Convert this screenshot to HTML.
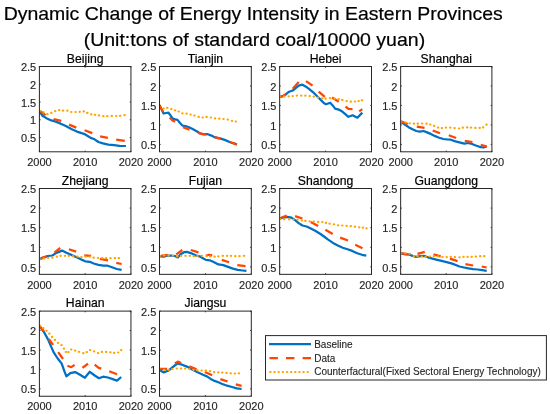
<!DOCTYPE html><html><head><meta charset="utf-8"><style>html,body{margin:0;padding:0;background:#fff;}svg{display:block;filter:blur(0.35px);}text{font-family:"Liberation Sans",sans-serif;}</style></head><body>
<svg width="550" height="414" viewBox="0 0 550 414">
<rect width="550" height="414" fill="#fff"/>
<text x="253.2" y="19.6" font-size="18.5" text-anchor="middle" fill="#000" stroke="#000" stroke-width="0.2" textLength="499" lengthAdjust="spacingAndGlyphs">Dynamic Change of Energy Intensity in Eastern Provinces</text>
<text x="254.4" y="46.2" font-size="18.5" text-anchor="middle" fill="#000" stroke="#000" stroke-width="0.2" textLength="341.5" lengthAdjust="spacingAndGlyphs">(Unit:tons of standard coal/10000 yuan)</text>
<clipPath id="c0"><rect x="39.4" y="66.5" width="91.54" height="85.3"/></clipPath><g clip-path="url(#c0)" fill="none" stroke-linejoin="round"><polyline points="39.6,111.6 42.4,115.7 46.9,118.4 51.3,120.4 55.8,121.6 60.2,123.4 65.8,126 71.3,129 76.9,131.6 82.4,133.4 84,133.8 87.3,135.7 90.7,137.9 94.6,139.3 98.4,142 102.9,143.4 108.4,144.6 114,145.1 119.6,145.8 125.9,146" stroke="#0070C4" stroke-width="2.25"/><polyline points="40,110.9 44.7,114.6 45.5,115.3" stroke="#FF4500" stroke-width="2.25"/><polyline points="53.6,119 61.3,120.9" stroke="#FF4500" stroke-width="2.25"/><polyline points="69.1,124.6 76.3,127.6" stroke="#FF4500" stroke-width="2.25"/><polyline points="84.6,130.3 92.3,133.1" stroke="#FF4500" stroke-width="2.25"/><polyline points="100.1,136.4 107.9,137.9" stroke="#FF4500" stroke-width="2.25"/><polyline points="116.2,139.6 124.8,140.9" stroke="#FF4500" stroke-width="2.25"/><path d="M39.55 110.9h0.3M43.45 112.3h0.3M47.25 114.2h0.3M51.15 112.9h0.3M55.05 111.2h0.3M58.95 110.1h0.3M62.85 110.7h0.3M67.25 110.7h0.3M71.15 112h0.3M75.45 112h0.3M79.55 111.8h0.3M83.65 111.4h0.3M87.15 112.9h0.3M91.05 114.3h0.3M94.95 114.8h0.3M98.85 115.4h0.3M103.25 116.2h0.3M107.15 116.2h0.3M111.65 115.9h0.3M116.05 116h0.3M119.95 115.8h0.3M124.45 115.1h0.3" stroke="#FFA500" stroke-width="2.2" stroke-linecap="round"/></g><rect x="39.4" y="66.5" width="91.54" height="85.3" fill="none" stroke="#262626" stroke-width="1"/><path d="M39.4 137.58h1.2M130.94 137.58h-1.2M39.4 119.81h1.2M130.94 119.81h-1.2M39.4 102.04h1.2M130.94 102.04h-1.2M39.4 84.27h1.2M130.94 84.27h-1.2M39.4 66.5h1.2M130.94 66.5h-1.2M39.4 151.8v-1.2M39.4 66.5v1.2M85.17 151.8v-1.2M85.17 66.5v1.2M130.94 151.8v-1.2M130.94 66.5v1.2" stroke="#262626" stroke-width="0.9" fill="none"/><text x="36.2" y="142.18" font-size="11" text-anchor="end" fill="#262626" stroke="#262626" stroke-width="0.15">0.5</text><text x="36.2" y="124.41" font-size="11" text-anchor="end" fill="#262626" stroke="#262626" stroke-width="0.15">1</text><text x="36.2" y="106.64" font-size="11" text-anchor="end" fill="#262626" stroke="#262626" stroke-width="0.15">1.5</text><text x="36.2" y="88.87" font-size="11" text-anchor="end" fill="#262626" stroke="#262626" stroke-width="0.15">2</text><text x="36.2" y="71.1" font-size="11" text-anchor="end" fill="#262626" stroke="#262626" stroke-width="0.15">2.5</text><text x="39.4" y="166" font-size="11" text-anchor="middle" fill="#262626" stroke="#262626" stroke-width="0.15">2000</text><text x="85.17" y="166" font-size="11" text-anchor="middle" fill="#262626" stroke="#262626" stroke-width="0.15">2010</text><text x="130.94" y="166" font-size="11" text-anchor="middle" fill="#262626" stroke="#262626" stroke-width="0.15">2020</text><text x="85.17" y="62.5" font-size="12.2" text-anchor="middle" fill="#000" stroke="#000" stroke-width="0.2">Beijing</text>
<clipPath id="c1"><rect x="159.5" y="66.5" width="91.8" height="85.3"/></clipPath><g clip-path="url(#c1)" fill="none" stroke-linejoin="round"><polyline points="159.7,105.8 161.8,109.7 163.6,113.5 166.1,113 168.5,112.7 170.3,115.1 172.7,118.7 175.1,119.3 177.5,119.9 180,123 182.4,125.6 185.4,126 189,127.2 192.6,129 196.3,131 199.9,133.2 202.9,134.2 207.8,134.2 211.5,135.6 215.1,137.4 219.9,138.4 224.7,139.9 229.6,142 233.2,143.2 236.8,144.4" stroke="#0070C4" stroke-width="2.25"/><polyline points="159.6,105.4 161.2,108.5 163,112.1" stroke="#FF4500" stroke-width="2.25"/><polyline points="169.7,117.5 172.5,120.5 175.1,121.7" stroke="#FF4500" stroke-width="2.25"/><polyline points="183,127.2 189.6,129.6" stroke="#FF4500" stroke-width="2.25"/><polyline points="198.1,132.8 202.9,134.2 206.5,134.6" stroke="#FF4500" stroke-width="2.25"/><polyline points="214.5,137.2 221.1,138.9" stroke="#FF4500" stroke-width="2.25"/><polyline points="230.2,142.3 237,144.4" stroke="#FF4500" stroke-width="2.25"/><path d="M159.55 105.4h0.3M163.45 108.5h0.3M167.15 107.9h0.3M171.15 109.1h0.3M174.95 110.3h0.3M178.55 111.5h0.3M182.25 113.3h0.3M186.45 113.6h0.3M190.45 114.5h0.3M194.25 115.5h0.3M198.55 116.9h0.3M202.55 117.5h0.3M206.45 116.9h0.3M210.75 117.5h0.3M214.95 118.4h0.3M219.15 118.7h0.3M223.35 119h0.3M227.65 119.6h0.3M231.85 120.8h0.3M235.65 121.5h0.3" stroke="#FFA500" stroke-width="2.2" stroke-linecap="round"/></g><rect x="159.5" y="66.5" width="91.8" height="85.3" fill="none" stroke="#262626" stroke-width="1"/><path d="M159.5 144.4h1.2M251.3 144.4h-1.2M159.5 124.92h1.2M251.3 124.92h-1.2M159.5 105.45h1.2M251.3 105.45h-1.2M159.5 85.97h1.2M251.3 85.97h-1.2M159.5 66.5h1.2M251.3 66.5h-1.2M159.5 151.8v-1.2M159.5 66.5v1.2M205.4 151.8v-1.2M205.4 66.5v1.2M251.3 151.8v-1.2M251.3 66.5v1.2" stroke="#262626" stroke-width="0.9" fill="none"/><text x="156.3" y="149" font-size="11" text-anchor="end" fill="#262626" stroke="#262626" stroke-width="0.15">0.5</text><text x="156.3" y="129.52" font-size="11" text-anchor="end" fill="#262626" stroke="#262626" stroke-width="0.15">1</text><text x="156.3" y="110.05" font-size="11" text-anchor="end" fill="#262626" stroke="#262626" stroke-width="0.15">1.5</text><text x="156.3" y="90.57" font-size="11" text-anchor="end" fill="#262626" stroke="#262626" stroke-width="0.15">2</text><text x="156.3" y="71.1" font-size="11" text-anchor="end" fill="#262626" stroke="#262626" stroke-width="0.15">2.5</text><text x="159.5" y="166" font-size="11" text-anchor="middle" fill="#262626" stroke="#262626" stroke-width="0.15">2000</text><text x="205.4" y="166" font-size="11" text-anchor="middle" fill="#262626" stroke="#262626" stroke-width="0.15">2010</text><text x="251.3" y="166" font-size="11" text-anchor="middle" fill="#262626" stroke="#262626" stroke-width="0.15">2020</text><text x="205.4" y="62.5" font-size="12.2" text-anchor="middle" fill="#000" stroke="#000" stroke-width="0.2">Tianjin</text>
<clipPath id="c2"><rect x="279.65" y="66.5" width="91.85" height="85.3"/></clipPath><g clip-path="url(#c2)" fill="none" stroke-linejoin="round"><polyline points="280,96.8 283.6,96 286.7,93.6 289.1,91.7 292.7,90.5 295.7,88.1 298.7,85.7 302.4,84.7 306,86.7 309.6,89.3 313.2,92.3 316.9,96 320.5,99.6 324.1,103.2 326,104.2 330.2,102.7 332.7,105.4 335.1,108.6 338.7,109.6 342.3,111.6 345.3,114.1 348.4,116.8 352.6,115.3 357.4,117.7 362.3,112.6" stroke="#0070C4" stroke-width="2.25"/><polyline points="280,96.8 281.2,96.8 286.1,94.2" stroke="#FF4500" stroke-width="2.25"/><polyline points="292.7,88.7 298.7,82.1" stroke="#FF4500" stroke-width="2.25"/><polyline points="306,81.1 312.6,85.7" stroke="#FF4500" stroke-width="2.25"/><polyline points="318.7,91.7 324.8,96.9" stroke="#FF4500" stroke-width="2.25"/><polyline points="332.1,97.5 338.7,101.7" stroke="#FF4500" stroke-width="2.25"/><polyline points="345.5,106.7 348.7,109 352.5,109.1" stroke="#FF4500" stroke-width="2.25"/><polyline points="359.2,111.4 362.3,109.2" stroke="#FF4500" stroke-width="2.25"/><path d="M279.85 96.8h0.3M284.05 96.6h0.3M288.55 96.3h0.3M292.55 96h0.3M296.75 95.6h0.3M301.05 95.6h0.3M305.25 95.7h0.3M309.45 96h0.3M313.65 96.6h0.3M317.95 97.5h0.3M321.95 98.4h0.3M325.45 98.7h0.3M329.85 98.1h0.3M334.35 98.7h0.3M338.55 99.1h0.3M342.15 99.9h0.3M346.45 101.1h0.3M350.65 101.7h0.3M354.85 101.5h0.3M358.45 101.1h0.3M361.75 100.3h0.3" stroke="#FFA500" stroke-width="2.2" stroke-linecap="round"/></g><rect x="279.65" y="66.5" width="91.85" height="85.3" fill="none" stroke="#262626" stroke-width="1"/><path d="M279.65 144.4h1.2M371.5 144.4h-1.2M279.65 124.92h1.2M371.5 124.92h-1.2M279.65 105.45h1.2M371.5 105.45h-1.2M279.65 85.97h1.2M371.5 85.97h-1.2M279.65 66.5h1.2M371.5 66.5h-1.2M279.65 151.8v-1.2M279.65 66.5v1.2M325.57 151.8v-1.2M325.57 66.5v1.2M371.5 151.8v-1.2M371.5 66.5v1.2" stroke="#262626" stroke-width="0.9" fill="none"/><text x="276.45" y="149" font-size="11" text-anchor="end" fill="#262626" stroke="#262626" stroke-width="0.15">0.5</text><text x="276.45" y="129.52" font-size="11" text-anchor="end" fill="#262626" stroke="#262626" stroke-width="0.15">1</text><text x="276.45" y="110.05" font-size="11" text-anchor="end" fill="#262626" stroke="#262626" stroke-width="0.15">1.5</text><text x="276.45" y="90.57" font-size="11" text-anchor="end" fill="#262626" stroke="#262626" stroke-width="0.15">2</text><text x="276.45" y="71.1" font-size="11" text-anchor="end" fill="#262626" stroke="#262626" stroke-width="0.15">2.5</text><text x="279.65" y="166" font-size="11" text-anchor="middle" fill="#262626" stroke="#262626" stroke-width="0.15">2000</text><text x="325.57" y="166" font-size="11" text-anchor="middle" fill="#262626" stroke="#262626" stroke-width="0.15">2010</text><text x="371.5" y="166" font-size="11" text-anchor="middle" fill="#262626" stroke="#262626" stroke-width="0.15">2020</text><text x="325.57" y="62.5" font-size="12.2" text-anchor="middle" fill="#000" stroke="#000" stroke-width="0.2">Hebei</text>
<clipPath id="c3"><rect x="400.65" y="66.5" width="91.25" height="85.3"/></clipPath><g clip-path="url(#c3)" fill="none" stroke-linejoin="round"><polyline points="401,121.8 404.8,124.5 408.6,127.2 412.5,129.3 416.3,131 419.7,131.7 423.6,131 427,132.4 430.8,133.9 434.7,135.9 438.5,137.5 443.4,139 446.9,139.4 450.8,139.7 454.6,141.1 459.4,142.3 464.3,143.6 468.1,143 472,144 475.9,145.5 480.7,147.2 483.6,147.5 486.5,146.5" stroke="#0070C4" stroke-width="2.25"/><polyline points="401,121.4 407.7,124" stroke="#FF4500" stroke-width="2.25"/><polyline points="416.8,126.6 424.5,127.9" stroke="#FF4500" stroke-width="2.25"/><polyline points="432.7,130.5 440,133.2" stroke="#FF4500" stroke-width="2.25"/><polyline points="448.8,135.3 456.1,138" stroke="#FF4500" stroke-width="2.25"/><polyline points="464.8,140.9 472.5,142" stroke="#FF4500" stroke-width="2.25"/><polyline points="480.7,144.9 487,146.5" stroke="#FF4500" stroke-width="2.25"/><path d="M401.05 121.6h0.3M405.55 122.5h0.3M409.45 123.3h0.3M413.75 123.7h0.3M417.65 123.7h0.3M421.95 123.5h0.3M426.35 123.7h0.3M430.15 124.5h0.3M434.05 125.9h0.3M437.95 127.6h0.3M441.75 128.1h0.3M445.75 127.6h0.3M450.15 127.6h0.3M454.45 128.1h0.3M458.85 128.5h0.3M462.65 127.7h0.3M467.05 127.4h0.3M470.85 127.6h0.3M475.25 127.9h0.3M479.55 127.9h0.3M482.95 127.4h0.3M486.35 124.7h0.3" stroke="#FFA500" stroke-width="2.2" stroke-linecap="round"/></g><rect x="400.65" y="66.5" width="91.25" height="85.3" fill="none" stroke="#262626" stroke-width="1"/><path d="M400.65 144.4h1.2M491.9 144.4h-1.2M400.65 124.92h1.2M491.9 124.92h-1.2M400.65 105.45h1.2M491.9 105.45h-1.2M400.65 85.97h1.2M491.9 85.97h-1.2M400.65 66.5h1.2M491.9 66.5h-1.2M400.65 151.8v-1.2M400.65 66.5v1.2M446.27 151.8v-1.2M446.27 66.5v1.2M491.9 151.8v-1.2M491.9 66.5v1.2" stroke="#262626" stroke-width="0.9" fill="none"/><text x="397.45" y="149" font-size="11" text-anchor="end" fill="#262626" stroke="#262626" stroke-width="0.15">0.5</text><text x="397.45" y="129.52" font-size="11" text-anchor="end" fill="#262626" stroke="#262626" stroke-width="0.15">1</text><text x="397.45" y="110.05" font-size="11" text-anchor="end" fill="#262626" stroke="#262626" stroke-width="0.15">1.5</text><text x="397.45" y="90.57" font-size="11" text-anchor="end" fill="#262626" stroke="#262626" stroke-width="0.15">2</text><text x="397.45" y="71.1" font-size="11" text-anchor="end" fill="#262626" stroke="#262626" stroke-width="0.15">2.5</text><text x="400.65" y="166" font-size="11" text-anchor="middle" fill="#262626" stroke="#262626" stroke-width="0.15">2000</text><text x="446.27" y="166" font-size="11" text-anchor="middle" fill="#262626" stroke="#262626" stroke-width="0.15">2010</text><text x="491.9" y="166" font-size="11" text-anchor="middle" fill="#262626" stroke="#262626" stroke-width="0.15">2020</text><text x="446.27" y="62.5" font-size="12.2" text-anchor="middle" fill="#000" stroke="#000" stroke-width="0.2">Shanghai</text>
<clipPath id="c4"><rect x="39.4" y="188.5" width="91.54" height="85.85"/></clipPath><g clip-path="url(#c4)" fill="none" stroke-linejoin="round"><polyline points="39.7,259.1 43.8,257.4 47.6,256 52.4,255.5 56.3,252.9 62.1,250.6 66.9,252.9 71.7,255.1 76.6,257.2 81.4,259.6 85.3,261.3 89.8,261.8 93.6,263.5 98.4,264.9 103.3,265.7 107.6,265.7 112,267.3 116.8,269 121.6,269.9" stroke="#0070C4" stroke-width="2.25"/><polyline points="40.9,258.2 46.7,256.7" stroke="#FF4500" stroke-width="2.25"/><polyline points="54.4,252.6 60.2,248" stroke="#FF4500" stroke-width="2.25"/><polyline points="68.9,249.3 76.1,251.6" stroke="#FF4500" stroke-width="2.25"/><polyline points="84.3,255.3 91.2,255.8" stroke="#FF4500" stroke-width="2.25"/><polyline points="99.9,258.9 108.1,260.3" stroke="#FF4500" stroke-width="2.25"/><polyline points="116.3,262.8 121.6,264" stroke="#FF4500" stroke-width="2.25"/><path d="M39.55 259.3h0.3M43.65 258.6h0.3M47.95 258h0.3M52.25 257.7h0.3M56.65 256.7h0.3M60.45 255.8h0.3M64.85 255.8h0.3M68.75 255.8h0.3M73.05 256.2h0.3M77.35 256.7h0.3M81.25 257h0.3M85.35 256.6h0.3M89.65 256.7h0.3M93.45 257.7h0.3M97.85 258h0.3M102.15 258.2h0.3M106.05 258.2h0.3M110.35 258.2h0.3M114.75 258.2h0.3M118.75 258.2h0.3" stroke="#FFA500" stroke-width="2.2" stroke-linecap="round"/></g><rect x="39.4" y="188.5" width="91.54" height="85.85" fill="none" stroke="#262626" stroke-width="1"/><path d="M39.4 266.9h1.2M130.94 266.9h-1.2M39.4 247.3h1.2M130.94 247.3h-1.2M39.4 227.7h1.2M130.94 227.7h-1.2M39.4 208.1h1.2M130.94 208.1h-1.2M39.4 188.5h1.2M130.94 188.5h-1.2M39.4 274.35v-1.2M39.4 188.5v1.2M85.17 274.35v-1.2M85.17 188.5v1.2M130.94 274.35v-1.2M130.94 188.5v1.2" stroke="#262626" stroke-width="0.9" fill="none"/><text x="36.2" y="271.5" font-size="11" text-anchor="end" fill="#262626" stroke="#262626" stroke-width="0.15">0.5</text><text x="36.2" y="251.9" font-size="11" text-anchor="end" fill="#262626" stroke="#262626" stroke-width="0.15">1</text><text x="36.2" y="232.3" font-size="11" text-anchor="end" fill="#262626" stroke="#262626" stroke-width="0.15">1.5</text><text x="36.2" y="212.7" font-size="11" text-anchor="end" fill="#262626" stroke="#262626" stroke-width="0.15">2</text><text x="36.2" y="193.1" font-size="11" text-anchor="end" fill="#262626" stroke="#262626" stroke-width="0.15">2.5</text><text x="39.4" y="288.55" font-size="11" text-anchor="middle" fill="#262626" stroke="#262626" stroke-width="0.15">2000</text><text x="85.17" y="288.55" font-size="11" text-anchor="middle" fill="#262626" stroke="#262626" stroke-width="0.15">2010</text><text x="130.94" y="288.55" font-size="11" text-anchor="middle" fill="#262626" stroke="#262626" stroke-width="0.15">2020</text><text x="85.17" y="184.5" font-size="12.2" text-anchor="middle" fill="#000" stroke="#000" stroke-width="0.2">Zhejiang</text>
<clipPath id="c5"><rect x="159.5" y="188.5" width="91.8" height="85.85"/></clipPath><g clip-path="url(#c5)" fill="none" stroke-linejoin="round"><polyline points="159.9,256.4 163.8,256.7 167.6,255.5 171.5,255.5 174.9,256 177.8,257.4 180.6,254.3 184,252.2 186.9,251.9 190.8,253.1 195.6,255.3 200.4,256.7 203,258.2 205.9,259.9 209.8,260.3 213.6,262 218.4,264.4 223.3,265.1 228.1,266.9 232.9,268.6 237.7,269.9 242.6,270.5 246.4,270.9" stroke="#0070C4" stroke-width="2.25"/><polyline points="160.9,255.8 167.6,254.8" stroke="#FF4500" stroke-width="2.25"/><polyline points="176.3,254.3 182.3,250" stroke="#FF4500" stroke-width="2.25"/><polyline points="190.8,250 198.5,252.4" stroke="#FF4500" stroke-width="2.25"/><polyline points="205.9,255.8 209,254.8 212.2,255.3" stroke="#FF4500" stroke-width="2.25"/><polyline points="221.8,259.9 229.1,262.2" stroke="#FF4500" stroke-width="2.25"/><polyline points="237.3,265.1 245.5,266.1" stroke="#FF4500" stroke-width="2.25"/><path d="M159.75 255.8h0.3M164.05 255.5h0.3M168.45 255.5h0.3M172.75 255.5h0.3M177.15 256.4h0.3M180.95 255.8h0.3M185.35 255.8h0.3M189.65 255.8h0.3M193.55 256.2h0.3M197.35 256h0.3M201.75 255.8h0.3M206.25 256h0.3M210.05 256.4h0.3M214.45 256.7h0.3M218.25 256.4h0.3M222.65 255.8h0.3M226.95 255.8h0.3M230.85 255.8h0.3M235.15 256.2h0.3M239.35 256.2h0.3M243.85 255.8h0.3" stroke="#FFA500" stroke-width="2.2" stroke-linecap="round"/></g><rect x="159.5" y="188.5" width="91.8" height="85.85" fill="none" stroke="#262626" stroke-width="1"/><path d="M159.5 266.9h1.2M251.3 266.9h-1.2M159.5 247.3h1.2M251.3 247.3h-1.2M159.5 227.7h1.2M251.3 227.7h-1.2M159.5 208.1h1.2M251.3 208.1h-1.2M159.5 188.5h1.2M251.3 188.5h-1.2M159.5 274.35v-1.2M159.5 188.5v1.2M205.4 274.35v-1.2M205.4 188.5v1.2M251.3 274.35v-1.2M251.3 188.5v1.2" stroke="#262626" stroke-width="0.9" fill="none"/><text x="156.3" y="271.5" font-size="11" text-anchor="end" fill="#262626" stroke="#262626" stroke-width="0.15">0.5</text><text x="156.3" y="251.9" font-size="11" text-anchor="end" fill="#262626" stroke="#262626" stroke-width="0.15">1</text><text x="156.3" y="232.3" font-size="11" text-anchor="end" fill="#262626" stroke="#262626" stroke-width="0.15">1.5</text><text x="156.3" y="212.7" font-size="11" text-anchor="end" fill="#262626" stroke="#262626" stroke-width="0.15">2</text><text x="156.3" y="193.1" font-size="11" text-anchor="end" fill="#262626" stroke="#262626" stroke-width="0.15">2.5</text><text x="159.5" y="288.55" font-size="11" text-anchor="middle" fill="#262626" stroke="#262626" stroke-width="0.15">2000</text><text x="205.4" y="288.55" font-size="11" text-anchor="middle" fill="#262626" stroke="#262626" stroke-width="0.15">2010</text><text x="251.3" y="288.55" font-size="11" text-anchor="middle" fill="#262626" stroke="#262626" stroke-width="0.15">2020</text><text x="205.4" y="184.5" font-size="12.2" text-anchor="middle" fill="#000" stroke="#000" stroke-width="0.2">Fujian</text>
<clipPath id="c6"><rect x="279.65" y="188.5" width="91.85" height="85.85"/></clipPath><g clip-path="url(#c6)" fill="none" stroke-linejoin="round"><polyline points="280,218.5 283,217.7 287.3,216.8 291.5,217.7 295.1,220.1 298.7,223.1 302.4,225.5 306.6,226.5 310.8,228.6 315.6,231 320.5,234 324.7,237 327.8,239.4 333,242.9 337.8,245.5 342.7,247.7 347.5,249.2 352.3,250.9 357.2,253.2 362,254.8 366.3,255.7" stroke="#0070C4" stroke-width="2.25"/><polyline points="280,218.3 286.7,215.6" stroke="#FF4500" stroke-width="2.25"/><polyline points="295.1,216.1 302.4,218.5" stroke="#FF4500" stroke-width="2.25"/><polyline points="310.8,221.9 318.1,226.1" stroke="#FF4500" stroke-width="2.25"/><polyline points="325.4,229.8 332.7,234" stroke="#FF4500" stroke-width="2.25"/><polyline points="340.2,237.6 348,240.5" stroke="#FF4500" stroke-width="2.25"/><polyline points="355.2,244.8 362.5,248.2" stroke="#FF4500" stroke-width="2.25"/><path d="M279.85 218.9h0.3M284.05 219.3h0.3M288.95 219.3h0.3M293.15 219.5h0.3M297.35 219.7h0.3M301.65 220.5h0.3M305.25 220.9h0.3M309.45 221.3h0.3M313.65 221.7h0.3M317.95 221.9h0.3M322.15 222.1h0.3M325.75 222.9h0.3M329.45 223.7h0.3M333.75 224.3h0.3M337.95 225.3h0.3M342.15 225.5h0.3M346.45 225.8h0.3M350.65 226.1h0.3M354.85 226.7h0.3M359.05 227.3h0.3M362.75 227.7h0.3M366.35 228.3h0.3" stroke="#FFA500" stroke-width="2.2" stroke-linecap="round"/></g><rect x="279.65" y="188.5" width="91.85" height="85.85" fill="none" stroke="#262626" stroke-width="1"/><path d="M279.65 266.9h1.2M371.5 266.9h-1.2M279.65 247.3h1.2M371.5 247.3h-1.2M279.65 227.7h1.2M371.5 227.7h-1.2M279.65 208.1h1.2M371.5 208.1h-1.2M279.65 188.5h1.2M371.5 188.5h-1.2M279.65 274.35v-1.2M279.65 188.5v1.2M325.57 274.35v-1.2M325.57 188.5v1.2M371.5 274.35v-1.2M371.5 188.5v1.2" stroke="#262626" stroke-width="0.9" fill="none"/><text x="276.45" y="271.5" font-size="11" text-anchor="end" fill="#262626" stroke="#262626" stroke-width="0.15">0.5</text><text x="276.45" y="251.9" font-size="11" text-anchor="end" fill="#262626" stroke="#262626" stroke-width="0.15">1</text><text x="276.45" y="232.3" font-size="11" text-anchor="end" fill="#262626" stroke="#262626" stroke-width="0.15">1.5</text><text x="276.45" y="212.7" font-size="11" text-anchor="end" fill="#262626" stroke="#262626" stroke-width="0.15">2</text><text x="276.45" y="193.1" font-size="11" text-anchor="end" fill="#262626" stroke="#262626" stroke-width="0.15">2.5</text><text x="279.65" y="288.55" font-size="11" text-anchor="middle" fill="#262626" stroke="#262626" stroke-width="0.15">2000</text><text x="325.57" y="288.55" font-size="11" text-anchor="middle" fill="#262626" stroke="#262626" stroke-width="0.15">2010</text><text x="371.5" y="288.55" font-size="11" text-anchor="middle" fill="#262626" stroke="#262626" stroke-width="0.15">2020</text><text x="325.57" y="184.5" font-size="12.2" text-anchor="middle" fill="#000" stroke="#000" stroke-width="0.2">Shandong</text>
<clipPath id="c7"><rect x="400.65" y="188.5" width="91.25" height="85.85"/></clipPath><g clip-path="url(#c7)" fill="none" stroke-linejoin="round"><polyline points="401.2,253.5 405.3,254.4 408.9,254.5 412.5,255.9 416.2,256.8 420.3,256.2 423.9,255.9 428,257.3 432.5,258.6 437.1,259.8 441.6,260.9 447.6,262.3 452.2,263.6 455.8,265 459.5,266.5 464,267.5 468.5,268.4 473.1,269.1 477.6,269.5 482.2,270.2 486.7,270.9" stroke="#0070C4" stroke-width="2.25"/><polyline points="401.2,253.2 408.5,254.4" stroke="#FF4500" stroke-width="2.25"/><polyline points="417.5,253.8 424.8,251.8" stroke="#FF4500" stroke-width="2.25"/><polyline points="433.5,254.4 440.7,256.4" stroke="#FF4500" stroke-width="2.25"/><polyline points="449.9,258.6 457.6,261.1" stroke="#FF4500" stroke-width="2.25"/><polyline points="465.4,264.1 473.1,265.5" stroke="#FF4500" stroke-width="2.25"/><polyline points="481.7,266.5 486.7,267.5" stroke="#FF4500" stroke-width="2.25"/><path d="M401.05 253.5h0.3M405.15 253.2h0.3M409.65 253.8h0.3M413.75 256.2h0.3M417.35 256.5h0.3M421.65 256.5h0.3M425.55 256.8h0.3M429.65 256.5h0.3M433.75 256.2h0.3M437.85 256.4h0.3M442.35 256.8h0.3M446.55 257.1h0.3M450.65 256.8h0.3M454.75 257.1h0.3M459.35 257.3h0.3M463.35 256.8h0.3M467.45 256.8h0.3M471.55 256.8h0.3M475.65 256.6h0.3M480.05 256.2h0.3M484.05 256.2h0.3" stroke="#FFA500" stroke-width="2.2" stroke-linecap="round"/></g><rect x="400.65" y="188.5" width="91.25" height="85.85" fill="none" stroke="#262626" stroke-width="1"/><path d="M400.65 266.9h1.2M491.9 266.9h-1.2M400.65 247.3h1.2M491.9 247.3h-1.2M400.65 227.7h1.2M491.9 227.7h-1.2M400.65 208.1h1.2M491.9 208.1h-1.2M400.65 188.5h1.2M491.9 188.5h-1.2M400.65 274.35v-1.2M400.65 188.5v1.2M446.27 274.35v-1.2M446.27 188.5v1.2M491.9 274.35v-1.2M491.9 188.5v1.2" stroke="#262626" stroke-width="0.9" fill="none"/><text x="397.45" y="271.5" font-size="11" text-anchor="end" fill="#262626" stroke="#262626" stroke-width="0.15">0.5</text><text x="397.45" y="251.9" font-size="11" text-anchor="end" fill="#262626" stroke="#262626" stroke-width="0.15">1</text><text x="397.45" y="232.3" font-size="11" text-anchor="end" fill="#262626" stroke="#262626" stroke-width="0.15">1.5</text><text x="397.45" y="212.7" font-size="11" text-anchor="end" fill="#262626" stroke="#262626" stroke-width="0.15">2</text><text x="397.45" y="193.1" font-size="11" text-anchor="end" fill="#262626" stroke="#262626" stroke-width="0.15">2.5</text><text x="400.65" y="288.55" font-size="11" text-anchor="middle" fill="#262626" stroke="#262626" stroke-width="0.15">2000</text><text x="446.27" y="288.55" font-size="11" text-anchor="middle" fill="#262626" stroke="#262626" stroke-width="0.15">2010</text><text x="491.9" y="288.55" font-size="11" text-anchor="middle" fill="#262626" stroke="#262626" stroke-width="0.15">2020</text><text x="446.27" y="184.5" font-size="12.2" text-anchor="middle" fill="#000" stroke="#000" stroke-width="0.2">Guangdong</text>
<clipPath id="c8"><rect x="39.4" y="311.1" width="91.54" height="85.15"/></clipPath><g clip-path="url(#c8)" fill="none" stroke-linejoin="round"><polyline points="39.5,326 43.8,331.8 48,339.4 51,346.4 53.9,352.7 57.7,358.5 61.6,363.4 64,370.1 66.4,376.4 70.3,373.2 75.1,372.1 80,374.8 84.8,377.7 89.8,371.8 94.7,375.5 98.9,378.2 103.1,376.7 107.9,377.5 112.8,379.1 117,380.7 121.2,377" stroke="#0070C4" stroke-width="2.25"/><polyline points="39.5,325.9 43.8,331.4" stroke="#FF4500" stroke-width="2.25"/><polyline points="48.8,339 53.1,344.9" stroke="#FF4500" stroke-width="2.25"/><polyline points="58.2,352.2 63,359" stroke="#FF4500" stroke-width="2.25"/><polyline points="67.4,365.8 71.3,367.2 74.6,364.8" stroke="#FF4500" stroke-width="2.25"/><polyline points="82.4,367.7 85,366 88,363.7" stroke="#FF4500" stroke-width="2.25"/><polyline points="94.7,364.6 98.3,367.6 101.3,368.6" stroke="#FF4500" stroke-width="2.25"/><polyline points="109.2,371.2 117,374.3" stroke="#FF4500" stroke-width="2.25"/><path d="M39.75 325.7h0.3M43.15 328h0.3M46.35 330.8h0.3M49.15 333.7h0.3M51.85 336.9h0.3M54.75 339.9h0.3M57.85 342.8h0.3M61.35 345.2h0.3M63.75 348.7h0.3M65.75 352h0.3M68.25 352.1h0.3M71.05 349.5h0.3M74.95 350.6h0.3M78.85 351.8h0.3M83.15 353.2h0.3M86.65 352.1h0.3M89.95 350.1h0.3M93.95 351.3h0.3M97.85 353.1h0.3M101.75 351.9h0.3M105.95 351.9h0.3M110.25 352.3h0.3M114.05 352.9h0.3M118.05 352.5h0.3M121.05 350.1h0.3" stroke="#FFA500" stroke-width="2.2" stroke-linecap="round"/></g><rect x="39.4" y="311.1" width="91.54" height="85.15" fill="none" stroke="#262626" stroke-width="1"/><path d="M39.4 388.86h1.2M130.94 388.86h-1.2M39.4 369.42h1.2M130.94 369.42h-1.2M39.4 349.98h1.2M130.94 349.98h-1.2M39.4 330.54h1.2M130.94 330.54h-1.2M39.4 311.1h1.2M130.94 311.1h-1.2M39.4 396.25v-1.2M39.4 311.1v1.2M85.17 396.25v-1.2M85.17 311.1v1.2M130.94 396.25v-1.2M130.94 311.1v1.2" stroke="#262626" stroke-width="0.9" fill="none"/><text x="36.2" y="393.46" font-size="11" text-anchor="end" fill="#262626" stroke="#262626" stroke-width="0.15">0.5</text><text x="36.2" y="374.02" font-size="11" text-anchor="end" fill="#262626" stroke="#262626" stroke-width="0.15">1</text><text x="36.2" y="354.58" font-size="11" text-anchor="end" fill="#262626" stroke="#262626" stroke-width="0.15">1.5</text><text x="36.2" y="335.14" font-size="11" text-anchor="end" fill="#262626" stroke="#262626" stroke-width="0.15">2</text><text x="36.2" y="315.7" font-size="11" text-anchor="end" fill="#262626" stroke="#262626" stroke-width="0.15">2.5</text><text x="39.4" y="410.45" font-size="11" text-anchor="middle" fill="#262626" stroke="#262626" stroke-width="0.15">2000</text><text x="85.17" y="410.45" font-size="11" text-anchor="middle" fill="#262626" stroke="#262626" stroke-width="0.15">2010</text><text x="130.94" y="410.45" font-size="11" text-anchor="middle" fill="#262626" stroke="#262626" stroke-width="0.15">2020</text><text x="85.17" y="307.1" font-size="12.2" text-anchor="middle" fill="#000" stroke="#000" stroke-width="0.2">Hainan</text>
<clipPath id="c9"><rect x="159.5" y="311.1" width="91.8" height="85.15"/></clipPath><g clip-path="url(#c9)" fill="none" stroke-linejoin="round"><polyline points="159.9,370.3 163.8,372.4 168.1,370.8 172.4,367.4 177.3,363.5 182.1,364.7 186.9,366.6 191.7,369.3 196.6,371.7 201.4,373.9 203,374.8 206.9,376.4 210.7,378.9 214.6,380.9 218.4,382.2 222.3,384 227.1,385.7 232,387 236.8,388.3 241.6,389" stroke="#0070C4" stroke-width="2.25"/><polyline points="159.4,368.8 167.1,368.8" stroke="#FF4500" stroke-width="2.25"/><polyline points="174.9,363.5 177.8,361.6 181.1,363" stroke="#FF4500" stroke-width="2.25"/><polyline points="189.3,366.4 196.6,369.3" stroke="#FF4500" stroke-width="2.25"/><polyline points="204.8,372 212.2,375.3" stroke="#FF4500" stroke-width="2.25"/><polyline points="220.4,379.1 227.6,381.5" stroke="#FF4500" stroke-width="2.25"/><polyline points="235.8,384.4 241.6,385.9" stroke="#FF4500" stroke-width="2.25"/><path d="M159.75 369.3h0.3M164.05 369.8h0.3M168.45 369.8h0.3M172.25 369.1h0.3M176.65 368.5h0.3M180.95 368.5h0.3M185.05 368.5h0.3M189.15 369.1h0.3M193.35 369.8h0.3M197.35 370.3h0.3M201.45 370.5h0.3M205.75 370.6h0.3M209.85 371.2h0.3M213.95 372.2h0.3M218.15 372.4h0.3M222.15 372.6h0.3M226.35 372.9h0.3M230.55 373.3h0.3M234.75 373.5h0.3M238.75 373.3h0.3" stroke="#FFA500" stroke-width="2.2" stroke-linecap="round"/></g><rect x="159.5" y="311.1" width="91.8" height="85.15" fill="none" stroke="#262626" stroke-width="1"/><path d="M159.5 388.86h1.2M251.3 388.86h-1.2M159.5 369.42h1.2M251.3 369.42h-1.2M159.5 349.98h1.2M251.3 349.98h-1.2M159.5 330.54h1.2M251.3 330.54h-1.2M159.5 311.1h1.2M251.3 311.1h-1.2M159.5 396.25v-1.2M159.5 311.1v1.2M205.4 396.25v-1.2M205.4 311.1v1.2M251.3 396.25v-1.2M251.3 311.1v1.2" stroke="#262626" stroke-width="0.9" fill="none"/><text x="156.3" y="393.46" font-size="11" text-anchor="end" fill="#262626" stroke="#262626" stroke-width="0.15">0.5</text><text x="156.3" y="374.02" font-size="11" text-anchor="end" fill="#262626" stroke="#262626" stroke-width="0.15">1</text><text x="156.3" y="354.58" font-size="11" text-anchor="end" fill="#262626" stroke="#262626" stroke-width="0.15">1.5</text><text x="156.3" y="335.14" font-size="11" text-anchor="end" fill="#262626" stroke="#262626" stroke-width="0.15">2</text><text x="156.3" y="315.7" font-size="11" text-anchor="end" fill="#262626" stroke="#262626" stroke-width="0.15">2.5</text><text x="159.5" y="410.45" font-size="11" text-anchor="middle" fill="#262626" stroke="#262626" stroke-width="0.15">2000</text><text x="205.4" y="410.45" font-size="11" text-anchor="middle" fill="#262626" stroke="#262626" stroke-width="0.15">2010</text><text x="251.3" y="410.45" font-size="11" text-anchor="middle" fill="#262626" stroke="#262626" stroke-width="0.15">2020</text><text x="205.4" y="307.1" font-size="12.2" text-anchor="middle" fill="#000" stroke="#000" stroke-width="0.2">Jiangsu</text>
<rect x="265.5" y="335.6" width="280.9" height="44.4" fill="#fff" stroke="#262626" stroke-width="1"/>
<path d="M269 344.2H311" stroke="#0070C4" stroke-width="2.25"/>
<path d="M269.5 358.1h8.4M286 358.1h8.4M302.6 358.1h8.4" stroke="#FF4500" stroke-width="2.25"/>
<path d="M270.25 372h0.3M274.4 372h0.3M278.55 372h0.3M282.7 372h0.3M286.85 372h0.3M291 372h0.3M295.15 372h0.3M299.3 372h0.3M303.45 372h0.3M307.6 372h0.3" stroke="#FFA500" stroke-width="2.2" stroke-linecap="round"/>
<text x="314.2" y="347.8" font-size="10" fill="#262626" stroke="#262626" stroke-width="0.12">Baseline</text>
<text x="314.2" y="361.6" font-size="10" fill="#262626" stroke="#262626" stroke-width="0.12">Data</text>
<text x="314.2" y="375.3" font-size="10" fill="#262626" stroke="#262626" stroke-width="0.12">Counterfactural(Fixed Sectoral Energy Technology)</text>
</svg></body></html>
